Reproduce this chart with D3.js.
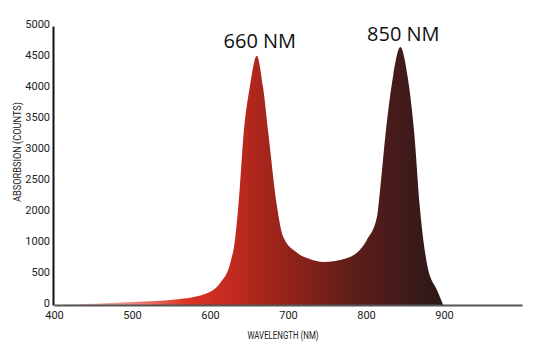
<!DOCTYPE html>
<html><head><meta charset="utf-8">
<script src="https://cdn.jsdelivr.net/npm/d3@7"></script>
<style>body{margin:0;background:#fff}svg{display:block}</style>
</head><body><svg id="c" width="540" height="349"></svg>
<script>
const wavelengths = [400,459,500,561,597,613,626,632,638,643,651,660,668,675,686,694,712,728,745,776,801,814,818,825,835,844,853,862,869,879,891,899];
const counts      = [0,24,48,97,194,355,677,1100,2355,3250,4016,4520,4016,3250,2080,1190,839,742,694,758,1100,1840,2355,3250,4210,4660,4210,3250,2080,613,242,0];
const xTicks = [400,500,600,700,800,900];
const yTicks = [0,500,1000,2000,2500,3000,3500,4000,4500,5000];
const peakLabels = ["660 NM","850 NM"];
const peakPos = [660,844];

const svg = d3.select("#c");
const x = d3.scaleLinear().domain([400,1000]).range([54,522]);
// piecewise scale: labels evenly spaced (the original axis skips 1500)
const y = d3.scaleLinear().domain([0,1000,2000,5000]).range([305,243,212,26]);

const defs = svg.append("defs");
const g = defs.append("linearGradient").attr("id","grad").attr("gradientUnits","userSpaceOnUse")
  .attr("x1",x(400)).attr("x2",x(900)).attr("y1",0).attr("y2",0);
[[0,"#f4d6d2"],[0.2,"#ec8a80"],[0.34,"#dc3324"],[0.45,"#c42a1f"],[0.6,"#93231a"],[0.78,"#5a1d1a"],[1,"#2a1819"]]
  .forEach(([o,c])=>g.append("stop").attr("offset",o).attr("stop-color",c));

const area = d3.area().x((d,i)=>x(wavelengths[i])).y0(y(0)).y1((d,i)=>y(d)).curve(d3.curveMonotoneX);
svg.append("path").datum(counts).attr("d",area).attr("fill","url(#grad)");

// axes
const xAxis = d3.axisBottom(x).tickValues(xTicks).tickSize(0).tickPadding(6);
const xg = svg.append("g").attr("transform",`translate(0,${y(0)})`).call(xAxis);
xg.select(".domain").attr("stroke","#555").attr("stroke-width",2);
xg.selectAll("text").attr("font-family","Liberation Sans Narrow, Roboto, sans-serif").attr("font-size",11).attr("fill","#222");

const yAxis = d3.axisLeft(y).tickValues(yTicks).tickFormat(d3.format("d")).tickSize(0).tickPadding(3);
const yg = svg.append("g").attr("transform",`translate(${x(400)-1},0)`).call(yAxis);
yg.select(".domain").attr("stroke","#111").attr("stroke-width",2);
yg.selectAll("text").attr("font-family","Liberation Sans Narrow, Roboto, sans-serif").attr("font-size",11).attr("fill","#222").attr("dy","0.1em");

svg.append("text").attr("x",283).attr("y",339).attr("text-anchor","middle")
  .attr("font-family","Liberation Sans Narrow, Roboto, sans-serif").attr("font-size",11).attr("fill","#222")
  .attr("textLength",71).attr("lengthAdjust","spacingAndGlyphs").text("WAVELENGTH (NM)");
svg.append("text").attr("transform","translate(21,152) rotate(-90)").attr("text-anchor","middle")
  .attr("font-family","Liberation Sans Narrow, Roboto, sans-serif").attr("font-size",11).attr("fill","#222")
  .attr("textLength",100).attr("lengthAdjust","spacingAndGlyphs").text("ABSORBSION (COUNTS)");

svg.selectAll(".peak").data(peakLabels).enter().append("text")
  .attr("x",(d,i)=>x(peakPos[i])+3).attr("y",(d,i)=>i===0?48:41)
  .attr("text-anchor","middle").attr("font-family","Open Sans, sans-serif").attr("font-size",20)
  .attr("fill","#111").text(d=>d);
</script></body></html>
